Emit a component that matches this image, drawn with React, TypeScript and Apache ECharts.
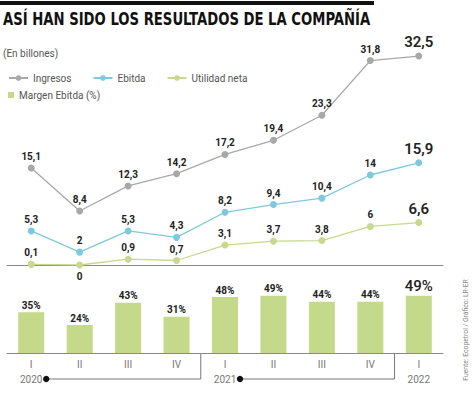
import React, { useEffect, useRef } from 'react';
import * as echarts from 'echarts';

const quarters = ['I', 'II', 'III', 'IV', 'I', 'II', 'III', 'IV', 'I'];
const years = ['2020', '', '', '', '2021', '', '', '', '2022'];
const ingresos = [15.1, 8.4, 12.3, 14.2, 17.2, 19.4, 23.3, 31.8, 32.5];
const ebitda = [5.3, 2, 5.3, 4.3, 8.2, 9.4, 10.4, 14, 15.9];
const utilidad = [0.1, 0, 0.9, 0.7, 3.1, 3.7, 3.8, 6, 6.6];
const margen = [35, 24, 43, 31, 48, 49, 44, 44, 49];

const TITLE = 'ASÍ HAN SIDO LOS RESULTADOS DE LA COMPAÑÍA';
const UNIT = '(En billones)';
const SOURCE = 'Fuente: Ecopetrol / Gráfico: LR-ER';

const NARROW = "'Liberation Sans Narrow', 'DejaVu Sans Condensed', Roboto, sans-serif";
const SANS = "Roboto, 'Noto Sans', sans-serif";

const C_ING = '#a8a8a8';
const C_EBI = '#7fc9de';
const C_UTI = '#c6d98c';
const C_BAR = '#c5d98b';

const fmt = (v: number) => String(v).replace('.', ',');

function lineData(arr: number[]) {
  return arr.map((v, i) => {
    const last = i === arr.length - 1;
    const item: any = { value: v };
    if (last) item.label = { fontSize: 15, fontWeight: 600 };
    if (v === 0) item.label = { position: 'bottom', distance: 3 };
    return item;
  });
}

function lineSeries(name: string, arr: number[], color: string) {
  return {
    name,
    type: 'line',
    xAxisIndex: 0,
    yAxisIndex: 0,
    data: lineData(arr),
    symbol: 'circle',
    symbolSize: 7,
    color,
    lineStyle: { width: 1.3, color },
    itemStyle: { color },
    label: {
      show: true,
      position: 'top',
      distance: 3,
      formatter: (p: any) => fmt(p.value),
      fontFamily: SANS,
      fontSize: 10,
      fontWeight: 'bold',
      color: '#222',
    },
  };
}

export default function App() {
  const ref = useRef<HTMLDivElement>(null);
  useEffect(() => {
    document.body.style.margin = '0';
    const chart = echarts.init(ref.current!, undefined, { renderer: 'svg' });
    const staticGraphics: any[] = [
      { type: 'rect', shape: { x: 0, y: 1, width: 374, height: 4 }, style: { fill: '#111' } },
      {
        type: 'text',
        x: 3,
        y: 19,
        scaleX: 0.865,
        style: {
          text: TITLE,
          font: `bold 17px ${NARROW}`,
          fill: '#111',
          verticalAlign: 'middle',
        },
      },
      {
        type: 'text',
        x: 3,
        y: 53,
        style: { text: UNIT, font: `10px ${SANS}`, fill: '#555', verticalAlign: 'middle' },
      },
      {
        type: 'text',
        x: 465,
        y: 330,
        rotation: Math.PI / 2,
        scaleX: 0.85,
        style: {
          text: SOURCE,
          font: `8px ${SANS}`,
          fill: '#888',
          align: 'center',
          verticalAlign: 'middle',
        },
      },
    ];
    chart.setOption({
      animation: false,
      backgroundColor: '#fff',
      textStyle: { fontFamily: SANS },
      legend: [
        {
          left: 3,
          top: 68,
          data: ['Ingresos', 'Ebitda', 'Utilidad neta'],
          itemWidth: 19,
          itemHeight: 7,
          itemGap: 21,
          textStyle: { fontSize: 10, color: '#555', fontFamily: SANS },
          selectedMode: false,
        },
        {
          left: 3,
          top: 85,
          data: ['Margen Ebitda (%)'],
          icon: 'rect',
          itemWidth: 6,
          itemHeight: 6,
          textStyle: { fontSize: 10, color: '#555', fontFamily: SANS },
          selectedMode: false,
        },
      ],
      grid: [
        { left: 7, width: 436, top: 40, height: 225 },
        { left: 7, width: 436, top: 283, height: 70 },
      ],
      xAxis: [
        {
          gridIndex: 0,
          type: 'category',
          data: quarters,
          boundaryGap: true,
          axisLine: { lineStyle: { color: '#8a8a8a', width: 1 } },
          axisTick: { inside: true, length: 4, lineStyle: { color: '#8a8a8a' } },
          axisLabel: { show: false },
        },
        {
          gridIndex: 1,
          type: 'category',
          data: quarters,
          boundaryGap: true,
          axisLine: { lineStyle: { color: '#8a8a8a', width: 1 } },
          axisTick: { length: 5, lineStyle: { color: '#8a8a8a' } },
          axisLabel: { color: '#777', fontSize: 10, margin: 6, interval: 0 },
        },
        {
          gridIndex: 1,
          type: 'category',
          data: years,
          position: 'bottom',
          offset: 15,
          boundaryGap: true,
          axisLine: { show: false },
          axisTick: { show: false },
          axisLabel: { color: '#777', fontSize: 10, margin: 6, interval: 0 },
        },
      ],
      yAxis: [
        { gridIndex: 0, type: 'value', min: 0, max: 35, show: false, splitLine: { show: false } },
        { gridIndex: 1, type: 'value', min: 0, max: 60, show: false, splitLine: { show: false } },
      ],
      series: [
        lineSeries('Ingresos', ingresos, C_ING),
        lineSeries('Ebitda', ebitda, C_EBI),
        lineSeries('Utilidad neta', utilidad, C_UTI),
        {
          name: 'Margen Ebitda (%)',
          type: 'bar',
          xAxisIndex: 1,
          yAxisIndex: 1,
          barWidth: 26,
          color: C_BAR,
          itemStyle: { color: C_BAR },
          data: margen.map((v, i) =>
            i === margen.length - 1
              ? { value: v, label: { fontSize: 15, fontWeight: 500 } }
              : { value: v }
          ),
          label: {
            show: true,
            position: 'top',
            distance: 2,
            formatter: '{c}%',
            fontFamily: SANS,
            fontSize: 10,
            fontWeight: 'bold',
            color: '#222',
          },
        },
      ],
      graphic: staticGraphics,
    });

    // year brackets, positioned from the axis scales
    const axisY = chart.convertToPixel({ yAxisIndex: 1 }, 0) as number;
    const rowY = axisY + 26;
    const starts = years.map((y, i) => (y ? i : -1)).filter((i) => i >= 0);
    const brackets: any[] = [];
    starts.forEach((s, k) => {
      const next = starts[k + 1];
      if (next === undefined) return;
      const cx = chart.convertToPixel({ xAxisIndex: 2 }, s) as number;
      const x0 = cx + 15;
      const xEnd =
        ((chart.convertToPixel({ xAxisIndex: 2 }, next - 1) as number) +
          (chart.convertToPixel({ xAxisIndex: 2 }, next) as number)) /
        2;
      brackets.push(
        {
          type: 'polyline',
          shape: { points: [[x0, rowY], [xEnd, rowY], [xEnd, axisY]] },
          style: { stroke: '#777', lineWidth: 1, fill: 'none' },
        },
        { type: 'circle', shape: { cx: x0, cy: rowY, r: 3.2 }, style: { fill: '#111' } }
      );
    });
    chart.setOption({ graphic: [...staticGraphics, ...brackets] });

    return () => chart.dispose();
  }, []);
  return <div ref={ref} style={{ width: 474, height: 395 }} />;
}
